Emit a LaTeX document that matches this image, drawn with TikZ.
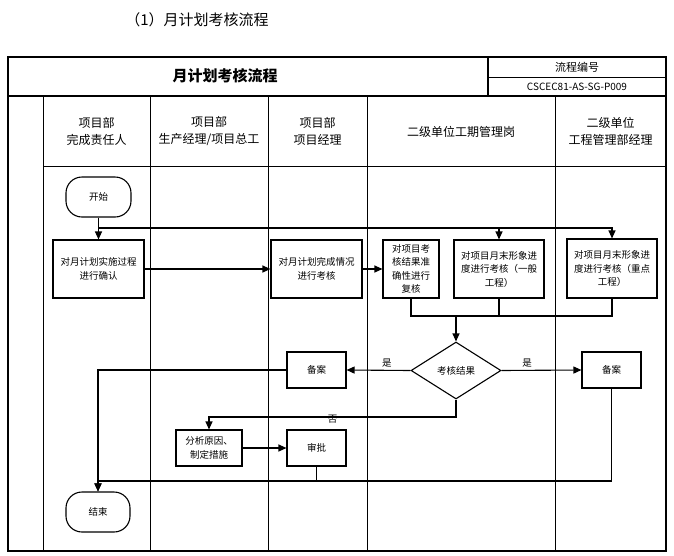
\documentclass[tikz,border=0pt]{standalone}
\usepackage{fontspec}
\setmainfont{Noto Sans CJK SC}
\usetikzlibrary{arrows.meta,shapes.geometric,positioning}

\begin{document}
\begin{tikzpicture}[x=1pt,y=-1pt,>={Triangle[length=8pt,width=7pt]},line width=1.1pt,
every node/.style={font=\fontsize{9.5}{13.5}\selectfont,align=center,inner sep=1pt},
proc/.style={draw,rectangle,inner sep=0pt},
term/.style={draw,rectangle,rounded corners=16pt,minimum width=64pt,minimum height=40pt},
decide/.style={draw,diamond,aspect=1.58,minimum width=90pt,minimum height=57pt,inner sep=0pt},
lane/.style={line width=0.7pt},
flow/.style={->},
head/.style={font=\fontsize{12}{17}\selectfont}]
\useasboundingbox (0,0) rectangle (674,555);
\node[font=\fontsize{15}{17}\selectfont] (caption) at (197,20) {（1）月计划考核流程};
% frame and lanes
\draw[line width=1.4pt] (8,57) rectangle (666,551);
\draw (8,96) -- (666,96);
\draw (488,57) -- (488,96);
\draw[lane] (488,77) -- (666,77);
\draw[lane] (43,166) -- (666,166);
\foreach \x in {43,150,268,367,555} \draw[lane] (\x,96) -- (\x,551);
\node[font=\bfseries\fontsize{15}{18}\selectfont] (title) at (225,76) {月计划考核流程};
\node[font=\fontsize{11}{13}\selectfont] (codehd) at (577,67) {流程编号};
\node[font=\fontsize{10}{12}\selectfont] (code) at (577,87) {CSCEC81-AS-SG-P009};
\node[head] (lane1) at (96.5,131) {项目部\\完成责任人};
\node[head] (lane2) at (209,131) {项目部\\生产经理/项目总工};
\node[head] (lane3) at (317.5,131) {项目部\\项目经理};
\node[head] (lane4) at (461,132) {二级单位工期管理岗};
\node[head] (lane5) at (610.5,131) {二级单位\\工程管理部经理};
% steps
\node[term,minimum width=65pt] (start) at (98.5,197) {开始};
\node[proc,minimum width=91pt,minimum height=58pt] (confirm) at (98.5,269) {对月计划实施过程\\进行确认};
\node[proc,minimum width=91pt,minimum height=58pt] (pmcheck) at (316.5,269) {对月计划完成情况\\进行考核};
\node[proc,minimum width=56pt,minimum height=58pt] (recheck) at (411,269) {对项目考\\核结果准\\确性进行\\复核};
\node[proc,minimum width=90pt,minimum height=58pt] (general) at (499,269) {对项目月末形象进\\度进行考核（一般\\工程）};
\node[proc,minimum width=90pt,minimum height=59pt] (keyck) at (612,268.5) {对项目月末形象进\\度进行考核（重点\\工程）};
\node[decide] (result) at (456,370.5) {考核结果};
\node[proc,minimum width=59pt,minimum height=36pt] (fileL) at (316.5,370) {备案};
\node[proc,minimum width=59pt,minimum height=36pt] (fileR) at (611.5,370) {备案};
\node[proc,minimum width=66pt,minimum height=36pt] (analyze) at (209,448) {分析原因、\\制定措施};
\node[proc,minimum width=59pt,minimum height=36pt] (approve) at (316.5,448) {审批};
\node[term] (end) at (98,512) {结束};
\coordinate (fork) at (98.5,228);
\coordinate (merge) at (456,316);
\coordinate (nobend) at (456,417);
\coordinate (endjoin) at (98,481);
% connectors
\draw[flow] (start) -- (confirm);
\draw[flow] (fork) -| (keyck.north);
\draw[flow] (fork -| general.north) -- (general.north);
\draw[flow] (confirm) -- (pmcheck);
\draw[flow] (pmcheck) -- (recheck);
\draw (recheck.south) |- (merge) -| (keyck.south);
\draw (general.south) -- (general.south |- merge);
\draw[flow] (merge) -- (result.north);
\draw[flow] (result.west) -- node[pos=0.37,above=2pt] {是} (fileL.east);
\draw[flow] (result.east) -- node[pos=0.32,above=2pt] {是} (fileR.west);
\draw[flow] (result.south) -- (nobend) -| node[pos=0.25,yshift=-2pt] {否} (analyze.north);
\draw[flow] (analyze) -- (approve);
\draw[flow] (fileR.south) |- (endjoin) -- (end.north);
\draw (approve.south) -- (approve.south |- endjoin);
\draw[flow] (fileL.west) -| (end.north);
\end{tikzpicture}
\end{document}
